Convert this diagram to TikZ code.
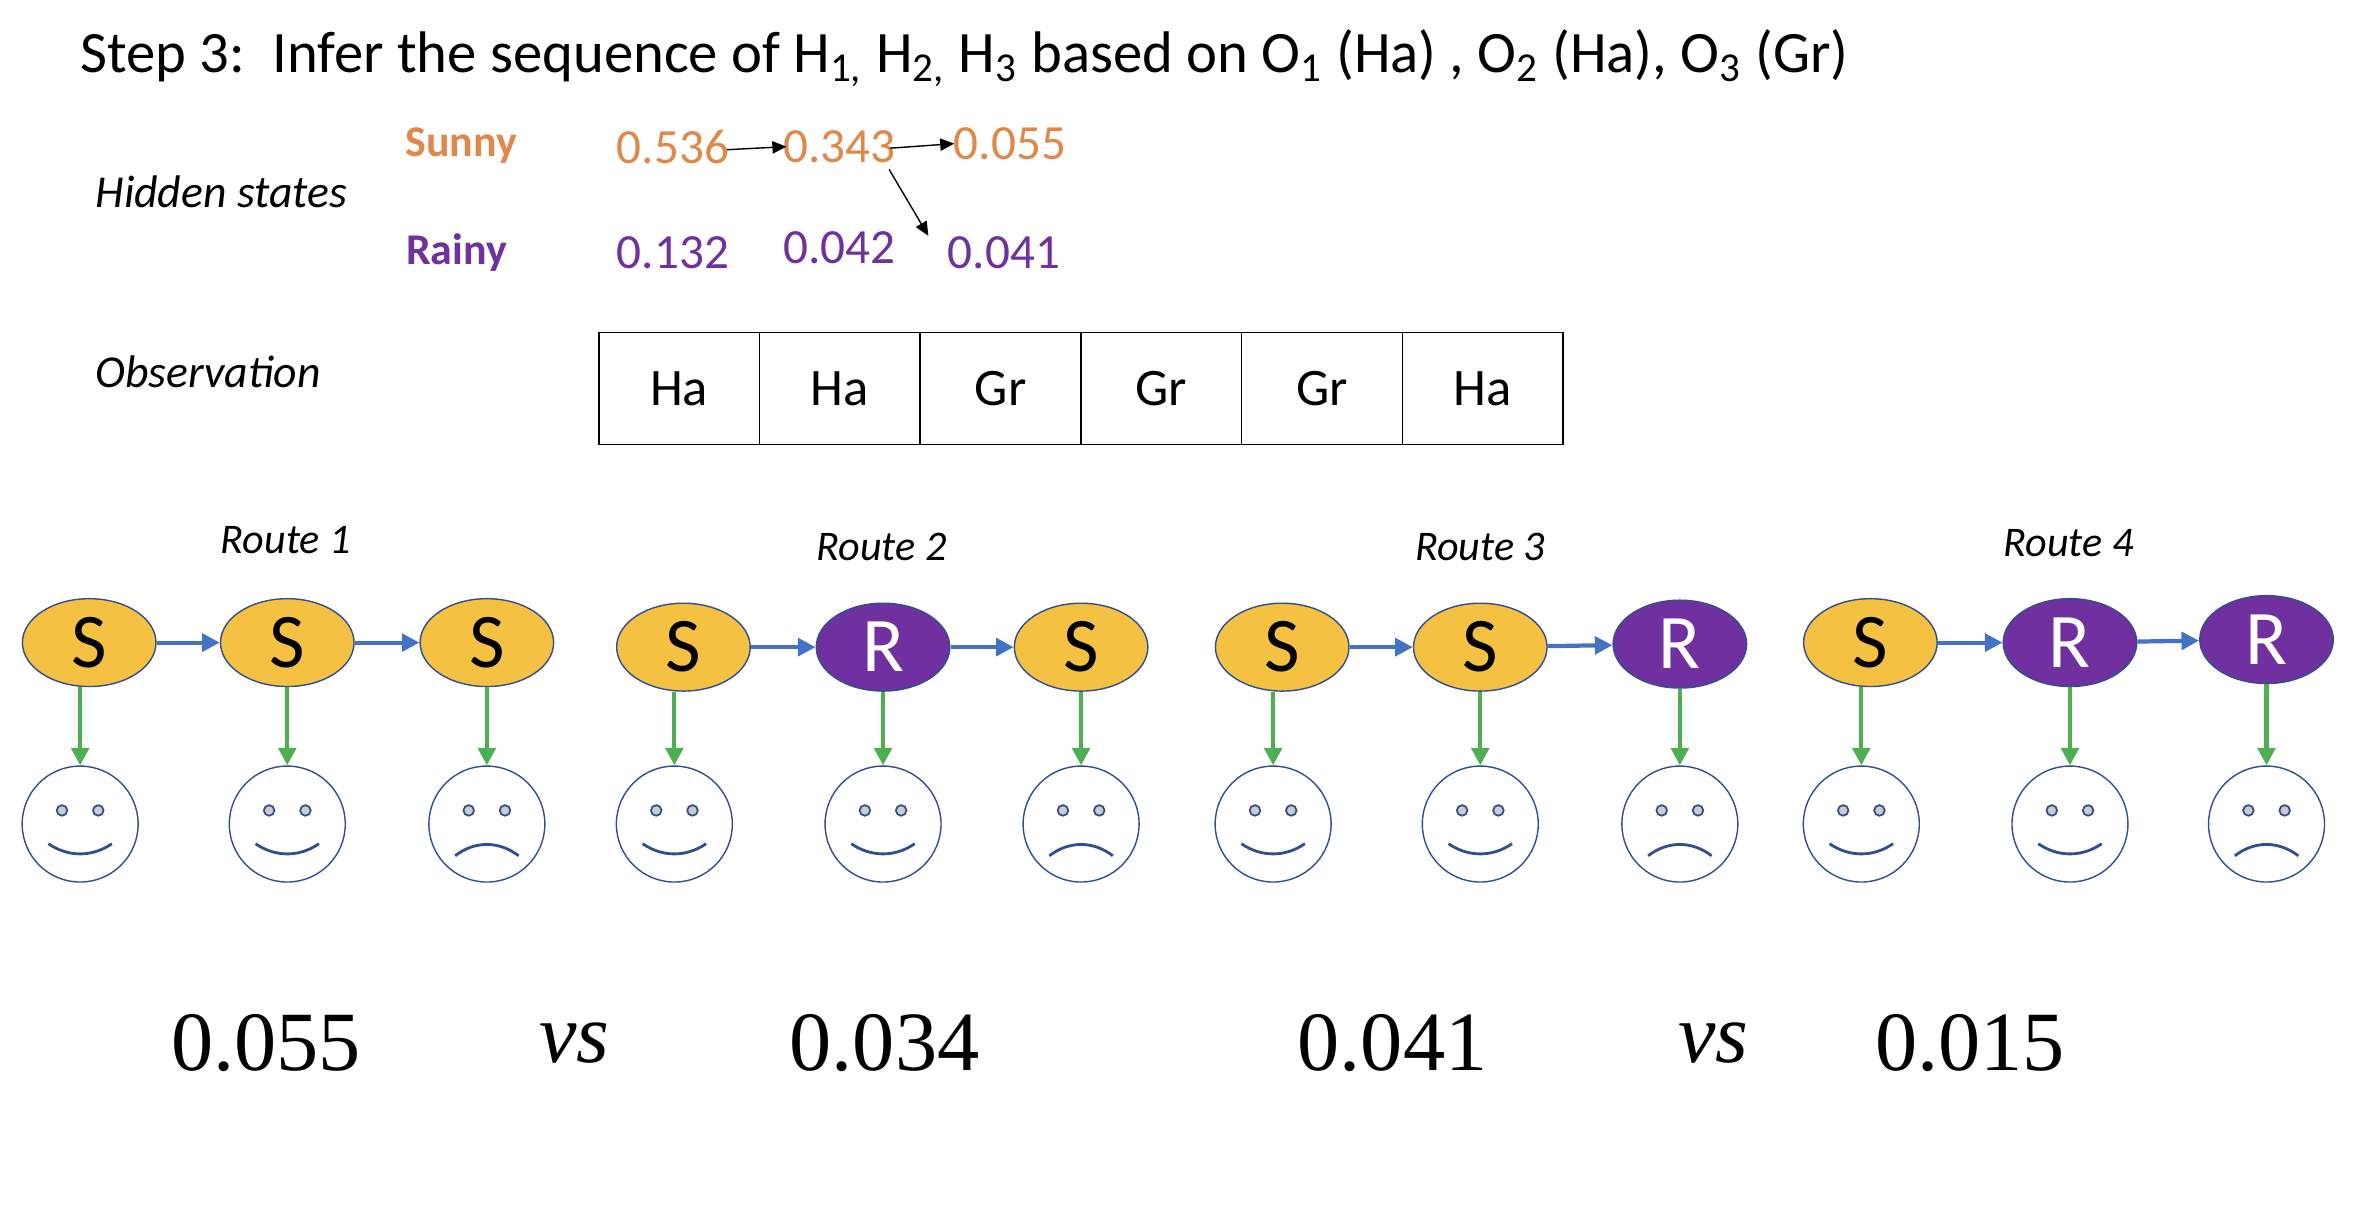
\documentclass[tikz,border=0pt]{standalone}
\usepackage{fontspec}
\setmainfont{Carlito}
\newfontfamily\serifnum{Liberation Serif}
\usetikzlibrary{shapes.geometric,arrows.meta,calc}
\definecolor{sunc}{HTML}{E0884A}
\definecolor{rainc}{HTML}{7030A0}
\definecolor{yel}{HTML}{F4C142}
\definecolor{edg}{HTML}{2F4F8F}
\definecolor{blu}{HTML}{4472C4}
\definecolor{grn}{HTML}{4CAF50}
\tikzset{
 sst/.style={ellipse,draw=edg,fill=yel,minimum width=38pt,minimum height=25pt,inner sep=0pt,font=\fontsize{22}{22}\selectfont},
 rst/.style={ellipse,draw=edg,fill=rainc,text=white,minimum width=38pt,minimum height=25pt,inner sep=0pt,font=\fontsize{22}{22}\selectfont},
 trans/.style={-{Triangle[length=5pt,width=5pt]},blu,line width=1.2pt},
 emis/.style={-{Triangle[length=5pt,width=5pt]},grn,line width=1.2pt},
 face/.style={circle,draw=edg,minimum size=33pt,inner sep=0pt},
 cell/.style={draw,minimum width=45.7pt,minimum height=31.8pt,font=\fontsize{15}{15}\selectfont},
 pa/.style={-{Triangle[length=4pt,width=3.5pt]},black,line width=0.4pt},
 big/.style={font=\fontsize{24}{24}\selectfont\serifnum},
 lbl/.style={font=\fontsize{13}{13}\selectfont\itshape},
 rl/.style={font=\fontsize{12}{12}\selectfont\itshape},
 num/.style={font=\fontsize{14}{14}\selectfont,inner sep=1pt},
}
\newcommand{\facedeco}[2]{%
 \fill[gray!40,draw=edg,line width=0.5pt] ($(#1)+(-12,-9)$) circle (3.5);
 \fill[gray!40,draw=edg,line width=0.5pt] ($(#1)+(12,-9)$) circle (3.5);
 \ifnum#2=1
 \draw[edg,line width=0.8pt] ($(#1)+(-21,13)$) .. controls ($(#1)+(-8,22)$) and ($(#1)+(8,22)$) .. ($(#1)+(21,13)$);
 \else
 \draw[edg,line width=0.8pt] ($(#1)+(-21,21)$) .. controls ($(#1)+(-8,11)$) and ($(#1)+(8,11)$) .. ($(#1)+(21,21)$);
 \fi}
\begin{document}
\begin{tikzpicture}[x=0.01512cm,y=-0.01512cm]
\useasboundingbox (0,0) rectangle (1559.5,800.3);
\node[anchor=base west,font=\fontsize{16.7}{16.7}\selectfont] (title) at (45,48) {Step 3:\, Infer the sequence of H\textsubscript{1,} H\textsubscript{2,} H\textsubscript{3} based on O\textsubscript{1} (Ha) , O\textsubscript{2} (Ha), O\textsubscript{3} (Gr)};
\node[lbl,anchor=west] (hs) at (55,127) {Hidden states};
\node[lbl,anchor=west] (ob) at (55,246) {Observation};
\node[font=\fontsize{12.5}{12.5}\selectfont\bfseries,text=sunc] (sunny) at (305,96) {Sunny};
\node[font=\fontsize{12.5}{12.5}\selectfont\bfseries,text=rainc] (rainy) at (302,167) {Rainy};
\node[num,text=sunc] (s1) at (445,97) {0.536};
\node[num,text=sunc] (s2) at (555,97) {0.343};
\node[num,text=sunc] (s3) at (668,95) {0.055};
\node[num,text=rainc] (r1) at (445,167) {0.132};
\node[num,text=rainc] (r2) at (555,164) {0.042};
\node[num,text=rainc] (r3) at (664,167) {0.041};
\coordinate (da) at (588,112);
\coordinate (db) at (614,156);
\draw[pa] ($(s1.east)+(-4,2)$) -- ($(s2.west)+(5,0)$);
\draw[pa] ($(s2.east)+(-6,1)$) -- ($(s3.west)+(3,0)$);
\draw[pa] (da) -- (db);
\foreach \t [count=\i] in {Ha,Ha,Gr,Gr,Gr,Ha}{
 \node[cell] (c\i) at ({396+106.3*(\i-0.5)},257) {\t};}
\node[rl] (rt1) at (189,357) {Route 1};
\node[rl] (rt2) at (583,362) {Route 2};
\node[rl] (rt3) at (979,362) {Route 3};
\node[rl] (rt4) at (1368,359) {Route 4};
\node[sst] (a1) at (59,425) {S};
\node[sst] (a2) at (190,425) {S};
\node[sst] (a3) at (322,425) {S};
\node[sst] (b1) at (452,428) {S};
\node[rst] (b2) at (584,428) {R};
\node[sst] (b3) at (715,428) {S};
\node[sst] (c1x) at (848,428) {S};
\node[sst] (c2x) at (979,428) {S};
\node[rst] (c3x) at (1111,426) {R};
\node[sst] (d1) at (1237,425) {S};
\node[rst] (d2) at (1369,425) {R};
\node[rst] (d3) at (1499,423) {R};
\foreach \p/\q in {a1/a2,a2/a3,b1/b2,b2/b3,c1x/c2x,c2x/c3x,d1/d2,d2/d3}{
 \draw[trans] (\p) -- (\q);}
\foreach \n/\x/\m in {fa1/53/1,fa2/190/1,fa3/322/0,fb1/446/1,fb2/584/1,fb3/715/0,fc1/842/1,fc2/979/1,fc3/1111/0,fd1/1231/1,fd2/1369/1,fd3/1499/0}{
 \node[face] (\n) at (\x,545) {};
 \facedeco{\n}{\m}
}
\foreach \p/\q in {a1/fa1,a2/fa2,a3/fa3,b1/fb1,b2/fb2,b3/fb3,c1x/fc1,c2x/fc2,c3x/fc3,d1/fd1,d2/fd2,d3/fd3}{
 \draw[emis] (\p.south -| \q.north) -- (\q.north);}
\node[big] (v1) at (176,690) {0.055};
\node[big] (vs1) at (380,690) {\itshape vs};
\node[big] (v2) at (585,690) {0.034};
\node[big] (v3) at (921,690) {0.041};
\node[big] (vs2) at (1133,690) {\itshape vs};
\node[big] (v4) at (1303,690) {0.015};
\end{tikzpicture}
\end{document}
